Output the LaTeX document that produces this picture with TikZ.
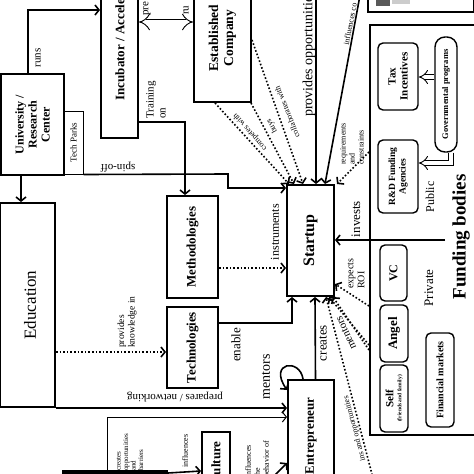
\documentclass[tikz,border=0pt]{standalone}
\usepackage{fontspec}
\setmainfont{Liberation Serif}
\usetikzlibrary{arrows.meta}
\newcommand\fsz[2]{\fontsize{#1}{#2}\selectfont}

\begin{document}
\begin{tikzpicture}[x=1pt, y=-1pt,
  blk/.style={draw, line width=2pt, inner sep=0pt},
  slim/.style={draw, line width=1pt, inner sep=0pt},
  rbox/.style={draw, line width=1.4pt, rounded corners=5pt, inner sep=0pt},
  ttl/.style={rotate=90, align=center, font=\bfseries\fsz{13}{14}},
  lbl/.style={rotate=90, align=left, inner sep=0pt, font=\fsz{11}{12}},
  arr/.style={line width=1.6pt, -{Straight Barb[length=4pt,width=10pt]}},
  dotarr/.style={arr, dotted},
  dblarr/.style={double, double distance=4pt, line width=0.9pt, -{Implies}}]
\useasboundingbox (0,0) rectangle (474,474);
\clip (0,0) rectangle (474,474);

% boxes
\node[blk, minimum width=63pt, minimum height=101pt] (univ) at (32.5,124.5) {};
\node[ttl, font=\bfseries\fsz{12}{13}] at (univ) {University /\\Research\\Center};
\node[slim, minimum width=19pt, minimum height=63pt] (tech) at (73.5,142.5) {};
\node[lbl, font=\fsz{9}{10}] at (tech) {Tech Parks};
\node[blk, minimum width=37pt, minimum height=158pt] (incub) at (119.5,59) {};
\node[ttl, anchor=west] at (120,104) {Incubator / Accelerator};
\node[blk, minimum width=57pt, minimum height=112pt] (estab) at (222.5,46) {};
\node[ttl, font=\bfseries\fsz{13.5}{15}] at (222.5,38) {Established\\Company};
\node[blk, minimum width=55pt, minimum height=204pt] (edu) at (27.5,305) {};
\node[rotate=90, font=\fsz{17}{18}] at (30,305) {Education};
\node[blk, minimum width=51pt, minimum height=102pt] (meth) at (192.5,247) {};
\node[ttl] at (meth) {Methodologies};
\node[blk, minimum width=51pt, minimum height=81pt] (techn) at (192.5,347.5) {};
\node[ttl] at (techn) {Technologies};
\node[blk, minimum width=47pt, minimum height=111pt] (start) at (310.5,240.5) {};
\node[ttl, font=\bfseries\fsz{16}{17}] at (start) {Startup};
\node[blk, minimum width=46pt, minimum height=120pt] (entre) at (311,440) {};
\node[ttl] at (311,436) {Entrepreneur};
\node[blk, minimum width=28pt, minimum height=68pt] (cult) at (216,466) {};
\node[ttl] at (216,463) {Culture};
\fill (62,470) rectangle (168,480);

% funding bodies
\node[blk, minimum width=106pt, minimum height=64pt] (topbox) at (421,-20) {};
\fill[gray!70!black] (376,-5) rectangle (390,6);
\fill[gray!40] (392,-5) rectangle (410,4);
\node[blk, minimum width=110pt, minimum height=410pt] (fund) at (425,230) {};
\node[ttl, font=\bfseries\fsz{19}{20}] at (461,237) {Funding bodies};
\node[rbox, minimum width=40pt, minimum height=67pt] (tax) at (398,76.5) {};
\node[ttl, font=\bfseries\fsz{11}{12}] at (tax) {Tax\\Incentives};
\node[rbox, rounded corners=10pt, minimum width=22pt, minimum height=115pt] (gov) at (446,94.5) {};
\node[ttl, font=\bfseries\fsz{8.5}{9}] at (gov) {Governmental programs};
\node[rbox, minimum width=40pt, minimum height=73pt] (rnd) at (398,176.5) {};
\node[ttl, font=\bfseries\fsz{9.5}{10.5}] at (rnd) {R\&D Funding\\Agencies};
\node[rbox, minimum width=27pt, minimum height=56pt] (vc) at (393.5,273) {};
\node[ttl, font=\bfseries\fsz{12}{13}] at (vc) {VC};
\node[rbox, minimum width=28pt, minimum height=57pt] (angel) at (394,333.5) {};
\node[ttl] at (angel) {Angel};
\node[rbox, minimum width=28pt, minimum height=67pt] (self) at (394,398.5) {};
\node[ttl, font=\bfseries\fsz{11}{8}] at (self) {Self\\{\fsz{5.5}{6}(friends and family)}};
\node[rbox, minimum width=28pt, minimum height=94pt] (fin) at (440,380) {};
\node[ttl, font=\bfseries\fsz{10}{11}] at (fin) {Financial markets};
\node[lbl, font=\fsz{12}{13}] at (430,197) {Public};
\node[lbl, font=\fsz{13}{14}] at (429,288) {Private};
\draw[dblarr] (gov.west |- 0,77) -- (tax.east |- 0,77);
\draw[dblarr] ([xshift=5pt]gov.south) |- (rnd.east |- 0,163);

% free ends
\coordinate (topsrc) at (316,-10);
\coordinate (inflsrc) at (361,-10);
\coordinate (invsrc) at (445,240);
\coordinate (oppsrc) at (374,482);
\coordinate (barsrc) at (107,482);
\coordinate (behsrc) at (268,482);

% connectors
\draw[arr] ([xshift=-4.5pt]univ.north) |- (incub.west |- 0,10);
\node[lbl] at (38,58) {runs};
\draw[dblarr, {Implies}-{Implies}, double distance=5pt] (incub.east |- 0,22) -- (estab.west |- 0,22);
\node[lbl, anchor=west] at (147,16) {pre};
\node[lbl, anchor=west] at (186,15) {ru};
\draw[arr] (incub.east |- 0,122) -| (meth.north -| 185,0);
\node[lbl, anchor=west] at (156,119) {Training\\on};
\draw[arr] ([xshift=-11.5pt]univ.south) -- ([xshift=-11.5pt]univ.south |- edu.north);
\draw[arr] (tech.south east) -- (228,174) |- (start.west |- 0,188);
\node[lbl, rotate=90] at (118,167) {spin-off};
\draw[dotarr] ([xshift=-7.5pt]estab.south) -- ([xshift=-21.5pt]start.north);
\node[lbl, rotate=41.5, font=\fsz{8}{9}] at (250,132) {competes with};
\draw[dotarr] ([xshift=-1pt]estab.south east) -- ([xshift=-16.5pt]start.north);
\node[lbl, rotate=28, font=\fsz{8}{9}] at (272,126) {buys};
\draw[dotarr] (estab.east |- 0,40) -- ([xshift=-7.5pt]start.north);
\node[lbl, rotate=22, font=\fsz{8}{9}] at (287,112) {collaborates with};
\draw[arr] (topsrc) -- ([xshift=5.5pt]start.north);
\node[lbl, anchor=west, font=\fsz{14}{15}] at (309,117) {provides opportunities};
\draw[arr] (inflsrc) -- ([xshift=14.5pt]start.north);
\node[lbl, rotate=-11, anchor=west, font=\fsz{8}{9}] at (346,45) {influences co};
\draw[dotarr] (fund.west |- 0,152) -- ([xshift=2pt]start.north east);
\node[lbl, anchor=west, font=\fsz{8}{9}] at (352,165) {requirements\\and\\constraints};
\draw[dotarr] (meth.east |- 0,268) -- (start.west |- 0,268);
\node[lbl, font=\fsz{12}{13}] at (275,232) {instruments};
\draw[arr] (invsrc) -- (start.east |- invsrc);
\node[lbl, font=\fsz{13}{14}] at (356,219) {invests};
\draw[dotarr] (fund.west |- 0,306) -- (start.east |- 0,284);
\node[lbl, anchor=west, font=\fsz{10}{11}] at (356,289) {expects\\ROI};
\draw[dotarr] (fund.west |- 0,350) -- ([xshift=-2pt]start.south east);
\draw[dotarr] ([yshift=5pt]fund.west |- 0,350) -- ([xshift=-6pt]start.south east);
\node[lbl, rotate=25, font=\fsz{11}{12}] at (346,333) {mentors};
\draw[dotarr] (oppsrc) -- ([xshift=-9pt]start.south east);
\node[lbl, rotate=15, anchor=east, font=\fsz{8}{9}] at (346,396) {ins and opportunities};
\draw[dotarr] (edu.east |- 0,352) -- (techn.west |- 0,352);
\node[lbl, anchor=west, font=\fsz{9.5}{10.5}] at (127,348) {provides\\knowledge in};
\draw[arr] (techn.east |- 0,323) -| ([xshift=-18.5pt]start.south);
\node[lbl, font=\fsz{13}{14}] at (236,345) {enable};
\draw[arr] ([xshift=-8pt]entre.north) .. controls (300,358) and (268,362) .. (entre.west |- 0,390);
\node[lbl, font=\fsz{14}{15}] at (266,377) {mentors};
\draw[arr] ([xshift=4.5pt]entre.north) -- ([xshift=4.5pt]start.south);
\node[lbl, font=\fsz{13}{14}] at (323,343) {creates};
\draw[arr] (edu.south east) -- (entre.west |- edu.south east);
\node[lbl, rotate=90] at (175,397) {prepares / networking};
\draw[arr, line width=1pt] (barsrc) |- (entre.west |- 0,417);
\node[lbl, anchor=west, font=\fsz{7}{7.5}] at (130,471) {creates\\opportunities\\and\\barriers};
\draw[arr] (168,473) -- (cult.west |- 0,471);
\node[lbl, font=\fsz{8}{9}] at (185,451) {influences};
\draw[arr] (behsrc) -- (entre.west |- 0,463);
\node[lbl, anchor=west, font=\fsz{8}{9}] at (257,478) {influences\\the\\behavior of};
\end{tikzpicture}
\end{document}
